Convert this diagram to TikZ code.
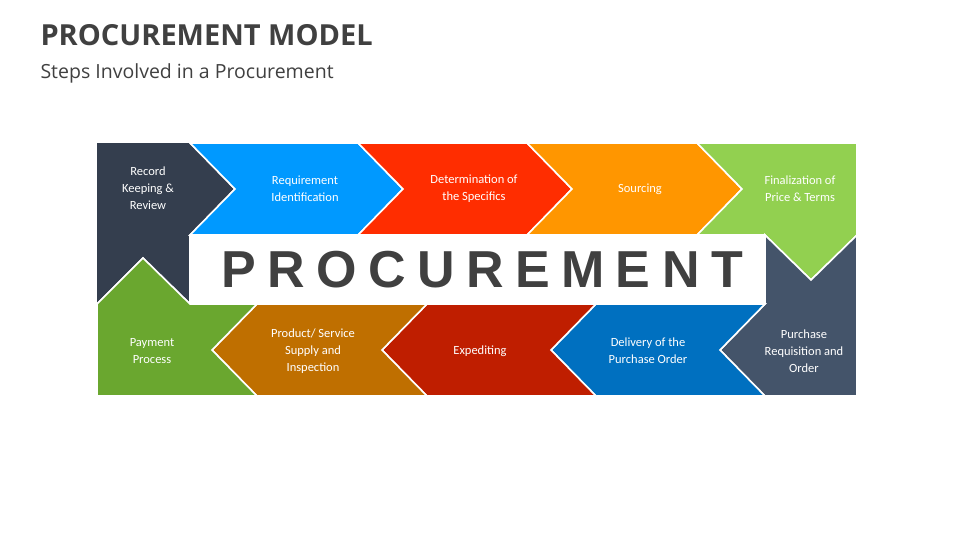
\documentclass[tikz,border=0pt]{standalone}
\usepackage{fontspec}
\setmainfont{Carlito}
\newfontfamily\titlefont{Open Sans}
\newfontfamily\bigfont[LetterSpace=22]{Liberation Sans}
\definecolor{cdark}{HTML}{343E4E}
\definecolor{cblue}{HTML}{0099FF}
\definecolor{cred}{HTML}{FF2D00}
\definecolor{corange}{HTML}{FF9600}
\definecolor{clgreen}{HTML}{92D050}
\definecolor{cslate}{HTML}{44546A}
\definecolor{cdblue}{HTML}{0070C0}
\definecolor{cdred}{HTML}{BF1E00}
\definecolor{cbrown}{HTML}{BF6F00}
\definecolor{cgreen}{HTML}{6AA72F}
\definecolor{ctext}{HTML}{404040}
\tikzset{
  seg/.style={draw=white,line width=1.6pt,line join=miter},
  lbl/.style={text=white,align=center,font=\fontsize{12.5}{17}\selectfont},
}
\begin{document}
\begin{tikzpicture}[x=1pt,y=-1pt]
\useasboundingbox (0,0) rectangle (960,540);
% top row
\fill[seg,cdark] (97,143) -- (190,143) -- (235,189) -- (190,235) -- (190,304) -- (143,258) -- (97,304) -- cycle;
\draw[seg] (190,143) -- (235,189) -- (190,235) -- (190,304) -- (143,258) -- (97,304);
\path[seg,fill=cblue] (190,143) -- (358,143) -- (403,189) -- (358,235) -- (190,235) -- (235,189) -- cycle;
\path[seg,fill=cred] (358,143) -- (527,143) -- (572,189) -- (527,235) -- (358,235) -- (403,189) -- cycle;
\path[seg,fill=corange] (527,143) -- (697,143) -- (742,189) -- (697,235) -- (527,235) -- (572,189) -- cycle;
\path[seg,fill=clgreen] (697,143) -- (857,143) -- (857,235) -- (811,280) -- (765,235) -- (697,235) -- (742,189) -- cycle;
% bottom row
\path[seg,fill=cslate] (765,235) -- (811,280) -- (857,235) -- (857,396) -- (765,396) -- (720,350) -- (765,304) -- cycle;
\path[seg,fill=cdblue] (765,304) -- (720,350) -- (765,396) -- (596,396) -- (551,350) -- (596,304) -- cycle;
\path[seg,fill=cdred] (596,304) -- (551,350) -- (596,396) -- (427,396) -- (382,350) -- (427,304) -- cycle;
\path[seg,fill=cbrown] (427,304) -- (382,350) -- (427,396) -- (257,396) -- (212,350) -- (257,304) -- cycle;
\path[seg,fill=cgreen] (97,304) -- (143,258) -- (190,304) -- (257,304) -- (212,350) -- (257,396) -- (97,396) -- cycle;
% clean outer edge
\draw[white,line width=1.6pt] (96,142) rectangle (858,397);
% labels
\node[lbl] (l1) at (148,188) {Record\\Keeping \&\\Review};
\node[lbl] (l2) at (305,189) {Requirement\\Identification};
\node[lbl] (l3) at (474,189) {Determination of\\the Specifics};
\node[lbl] (l4) at (640,189) {Sourcing};
\node[lbl] (l5) at (800,189) {Finalization of\\Price \& Terms};
\node[lbl] (l6) at (804,351) {Purchase\\Requisition and\\Order};
\node[lbl] (l7) at (648,351) {Delivery of the\\Purchase Order};
\node[lbl] (l8) at (480,351) {Expediting};
\node[lbl] (l9) at (313,351) {Product/ Service\\Supply and\\Inspection};
\node[lbl] (l10) at (152,351) {Payment\\Process};
% center word
\node[text=ctext,draw=none,font=\bigfont\bfseries\fontsize{52}{52}\selectfont] (pw) at (482,270) {PROCUREMENT};
% titles
\node[anchor=west,text=ctext,font=\titlefont\bfseries\fontsize{29}{32}\selectfont] (t1) at (37,35) {PROCUREMENT MODEL};
\node[anchor=west,text=ctext,font=\titlefont\fontsize{19.5}{22}\selectfont] (t2) at (37,73) {Steps Involved in a Procurement};
\end{tikzpicture}
\end{document}
